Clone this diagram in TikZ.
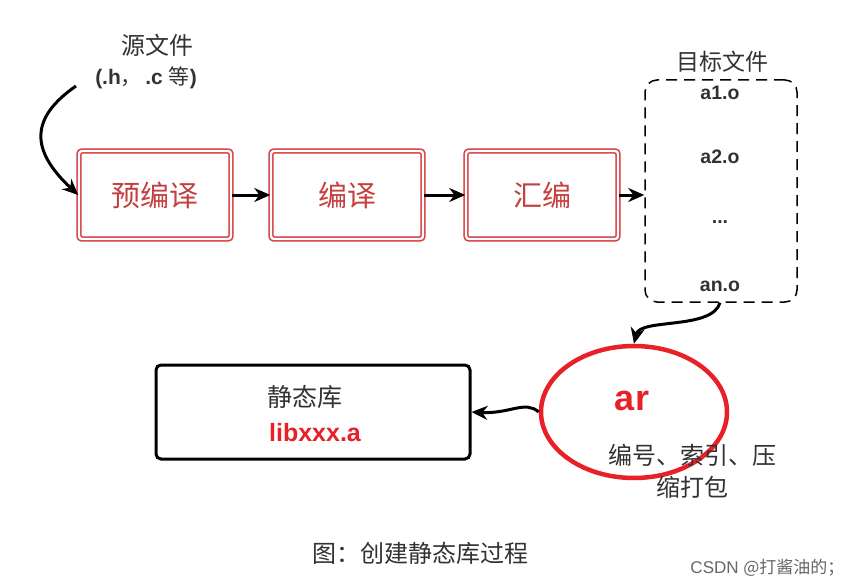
\documentclass[tikz,border=0pt]{standalone}
\usepackage{fontspec}
\setmainfont{Liberation Sans}
\newfontfamily\cjk{Noto Sans CJK SC}
\usetikzlibrary{arrows.meta,shapes.geometric}
\definecolor{boxred}{RGB}{214,58,62}
\definecolor{txtred}{RGB}{196,64,64}
\definecolor{brred}{RGB}{232,32,40}
\definecolor{dgray}{RGB}{50,50,50}
\tikzset{
  stagebox/.style={draw=boxred, double=white, double distance=2.4pt, line width=1.5pt,
    rounded corners=3pt, minimum width=152pt, minimum height=88pt, inner sep=0pt,
    font=\cjk\fontsize{29}{32}\selectfont, text=txtred},
  flow/.style={line width=3pt, -{Stealth[length=16pt,width=14pt]}},
  objtxt/.style={font=\bfseries\fontsize{19.5}{21}\selectfont, text=dgray},
}
\begin{document}
\begin{tikzpicture}[x=1pt,y=-1pt]
\useasboundingbox (0,0) rectangle (852,586);
\fill[white] (0,0) rectangle (852,586);
% source text
\node[font=\cjk\fontsize{24}{26}\selectfont, text=dgray] (src) at (157,45) {源文件};
\node[font=\bfseries\fontsize{21}{24}\selectfont, text=dgray] (srcext) at (146,78) {(.h{\cjk\mdseries ，}\,.c {\cjk\mdseries 等})};
\coordinate (srcstart) at (76,86);
% stage boxes
\node[stagebox] (pre) at (155,195) {预编译};
\node[stagebox] (comp) at (347,195) {编译};
\node[stagebox] (asm) at (542,195) {汇编};
% object files box
\node[draw, dashed, dash pattern=on 11pt off 7pt, line width=1.5pt, rounded corners=12pt,
  minimum width=152pt, minimum height=222pt] (obj) at (721,191) {};
\node[font=\cjk\fontsize{23}{25}\selectfont, text=dgray] (objtitle) at (722,62) {目标文件};
\node[objtxt] (a1) at (720,93) {a1.o};
\node[objtxt] (a2) at (720,157) {a2.o};
\node[objtxt] (dots) at (720,222) {...};
\node[objtxt] (an) at (720,286) {an.o};
% ar ellipse
\node[draw=brred, line width=4.5pt, ellipse, minimum width=186pt, minimum height=132pt] (ar) at (634,412) {};
\node[font=\bfseries\fontsize{36}{38}\selectfont, text=brred] (artxt) at (632,401) {ar};
\node[font=\cjk\fontsize{24}{32}\selectfont, text=dgray, align=center] (ardesc) at (692,471) {编号、索引、压\\缩打包};
% static lib box
\node[draw, line width=3pt, rounded corners=5pt, minimum width=314pt, minimum height=94pt] (lib) at (313,412) {};
\node[font=\cjk\fontsize{25}{27}\selectfont, text=dgray] (libname) at (305,397) {静态库};
\node[font=\bfseries\fontsize{25}{27}\selectfont, text=brred] (libfile) at (315,433) {libxxx.a};
% caption
\node[font=\cjk\fontsize{24}{26}\selectfont, text=dgray] (cap) at (420,553) {图：创建静态库过程};
\node[font=\fontsize{17}{19}\selectfont, text=black!60, anchor=east] (csdn) at (848,568) {CSDN {\cjk @打酱油的；}};
% connectors
\draw[flow] (srcstart) .. controls (30,118) and (30,150) .. (pre.west);
\draw[flow] (pre.east) -- (comp.west);
\draw[flow] (comp.east) -- (asm.west);
\draw[flow] (asm.east) -- (obj.west |- asm.east);
\draw[flow] (obj.south -| an) .. controls (712,330) and (640,318) .. (ar.north);
\draw[flow] (ar.west) .. controls (525,400) and (510,414) .. (lib.east);
\end{tikzpicture}
\end{document}
